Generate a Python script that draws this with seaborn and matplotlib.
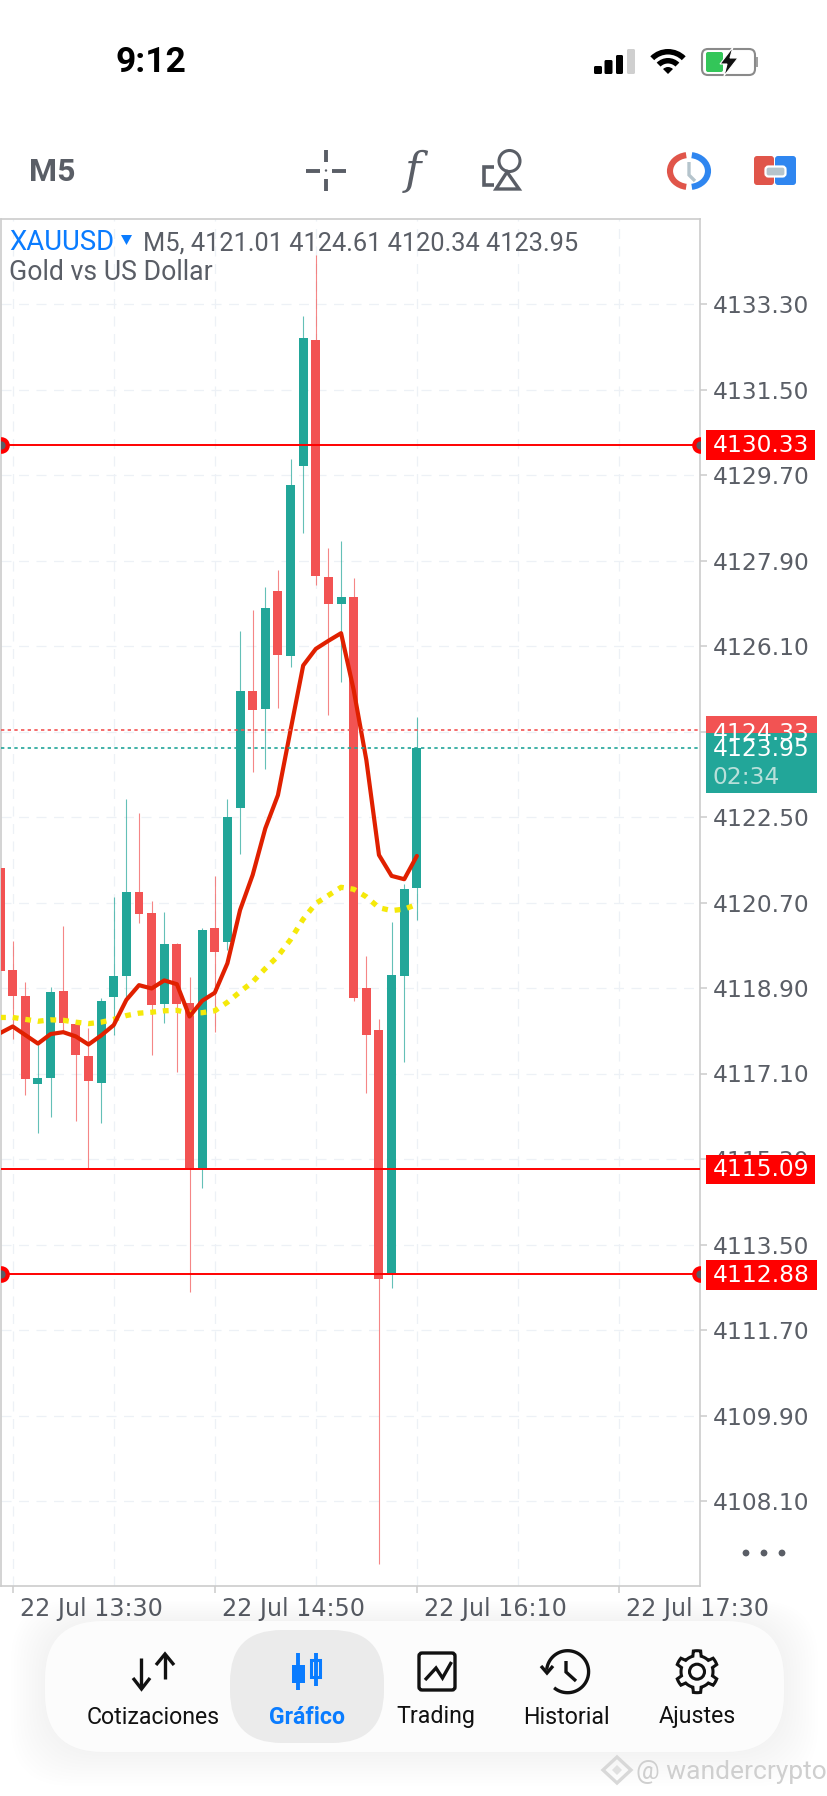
import numpy as np
import pandas as pd
import seaborn as sns
import matplotlib.pyplot as plt
from matplotlib.patches import FancyBboxPatch, Rectangle, Circle, Polygon, Wedge, Arc, Ellipse
from matplotlib.transforms import ScaledTranslation

# candles, one per 5 minutes, first one is cut by the left edge
opens = [4121.43, 4119.28, 4118.74, 4116.88, 4117.01, 4118.83, 4118.14, 4117.47, 4116.90, 4118.72, 4119.15,
         4120.93, 4120.47, 4118.56, 4119.82, 4118.58, 4115.11, 4120.16, 4119.87, 4122.70, 4125.16, 4124.77,
         4127.26, 4125.89, 4129.88, 4132.54, 4127.55, 4126.98, 4127.14, 4118.91, 4118.02, 4112.91, 4119.16, 4121.01]
closes = [4119.26, 4118.74, 4116.98, 4117.00, 4118.82, 4118.17, 4117.48, 4116.94, 4118.63, 4119.15, 4120.93,
          4120.46, 4118.55, 4119.83, 4118.56, 4115.11, 4120.13, 4119.65, 4122.49, 4125.16, 4124.75, 4126.91,
          4125.91, 4129.48, 4132.58, 4127.58, 4126.98, 4127.14, 4118.70, 4117.91, 4112.77, 4119.17, 4120.98, 4123.95]
highs = [4121.50, 4119.88, 4119.03, 4117.77, 4118.93, 4120.21, 4118.19, 4118.06, 4118.68, 4120.82, 4122.88,
         4122.58, 4120.73, 4120.51, 4119.85, 4119.14, 4120.17, 4121.26, 4122.88, 4126.42, 4126.86, 4127.34,
         4127.69, 4130.04, 4133.05, 4134.33, 4128.16, 4128.31, 4127.54, 4119.58, 4118.25, 4120.28, 4121.10, 4124.61]
lows = [4119.10, 4117.82, 4116.65, 4115.84, 4116.19, 4117.98, 4116.10, 4115.09, 4116.05, 4117.91, 4118.65,
        4120.26, 4117.49, 4118.16, 4117.14, 4112.51, 4114.68, 4117.98, 4119.70, 4121.72, 4123.45, 4123.51,
        4124.79, 4125.65, 4128.47, 4127.38, 4124.65, 4125.35, 4118.63, 4116.70, 4106.77, 4112.59, 4117.35, 4120.34]

ma_fast = [4117.95, 4118.09, 4117.91, 4117.73, 4117.93, 4117.97, 4117.88, 4117.71, 4117.90, 4118.12, 4118.65,
           4118.96, 4118.89, 4119.06, 4118.98, 4118.30, 4118.63, 4118.80, 4119.42, 4120.54, 4121.28, 4122.26,
           4122.96, 4124.33, 4125.69, 4126.04, 4126.21, 4126.37, 4125.17, 4123.70, 4121.70, 4121.26, 4121.19, 4121.68]
ma_slow = [4118.28, 4118.28, 4118.24, 4118.20, 4118.23, 4118.22, 4118.18, 4118.15, 4118.18, 4118.24, 4118.32,
           4118.37, 4118.39, 4118.42, 4118.43, 4118.37, 4118.38, 4118.42, 4118.60, 4118.82, 4119.03, 4119.31,
           4119.57, 4119.92, 4120.35, 4120.68, 4120.85, 4121.02, 4120.98, 4120.82, 4120.59, 4120.53, 4120.56, 4120.66]

price_ticks = [4133.30, 4131.50, 4129.70, 4127.90, 4126.10, 4124.30, 4122.50, 4120.70, 4118.90, 4117.10,
               4115.30, 4113.50, 4111.70, 4109.90, 4108.10]
time_ticks = [0, 16, 32, 48]
time_labels = ['22 Jul 13:30', '22 Jul 14:50', '22 Jul 16:10', '22 Jul 17:30']
level_lines = [4130.33, 4115.09, 4112.88]
handle_levels = [4130.33, 4112.88]
bid_price = 4123.95
ask_price = 4124.33

GREEN = '#22a699'
RED = '#f25353'
GREY = '#5a5e66'
BLUE = '#0a7cff'

sns.set_style('white')
plt.rcParams['font.family'] = ['Roboto', 'DejaVu Sans']

W, H = 828, 1796
fig = plt.figure(figsize=(W / 100, H / 100), dpi=100, facecolor='white')

# chart box in pixels
left, right, top, bottom = 1, 700, 219, 1586
ax = fig.add_axes([left / W, 1 - bottom / H, (right - left) / W, (bottom - top) / H])

df = pd.DataFrame({'bar': np.arange(-1, len(opens) - 1), 'open': opens, 'close': closes, 'high': highs,
                   'low': lows, 'ma_fast': ma_fast, 'ma_slow': ma_slow})
df['color'] = np.where(df['close'] >= df['open'], GREEN, RED)

ax.vlines(df['bar'], df['low'], df['high'], colors=df['color'], linewidth=0.8, alpha=0.7, zorder=2)
ax.bar(df['bar'], df['close'] - df['open'], bottom=df['open'], width=0.71, color=df['color'], linewidth=0, zorder=3)

sns.lineplot(data=df, x='bar', y='ma_slow', ax=ax, color='#f5e90a', linewidth=3.8, linestyle=(0, (1.1, 1.3)),
             errorbar=None, zorder=4)
sns.lineplot(data=df, x='bar', y='ma_fast', ax=ax, color='#e02000', linewidth=3.0, errorbar=None, zorder=5)

for level in level_lines:
    ax.axhline(level, color='#ff0000', linewidth=1.4, zorder=6)
ax.axhline(ask_price, color=RED, linewidth=1.2, linestyle=(0, (2, 2)), zorder=6)
ax.axhline(bid_price, color=GREEN, linewidth=1.2, linestyle=(0, (2, 2)), zorder=6)

# px per bar 12.63, bar 0 sits at x=12.7; px per price unit 47.5, 4133.30 sits at y=304
ax.set_xlim((left - 12.7) / 12.63, (right - 12.7) / 12.63)
ax.set_ylim(4133.30 - (bottom - 304) / 47.5, 4133.30 + (304 - top) / 47.5)

for level in handle_levels:
    ax.scatter(ax.get_xlim(), [level, level], s=80, facecolor=GREY, edgecolor='#ff0000', linewidth=3, zorder=7)

ax.yaxis.tick_right()
ax.set_yticks(price_ticks, [f'{t:.2f}' for t in price_ticks], family='DejaVu Sans', fontsize=16.8, color=GREY)
ax.set_xticks(time_ticks, time_labels)
ax.set_xticks([8, 24, 40], minor=True)
ax.tick_params(axis='y', length=5, width=1.1, color='#cccccc', pad=4, right=True)
ax.tick_params(axis='x', which='major', length=5, width=1.1, color='#cccccc', pad=3, bottom=True)
ax.tick_params(axis='x', which='minor', length=0)
for label in ax.get_xticklabels():
    label.set(family='DejaVu Sans', fontsize=17.2, color=GREY, ha='left')
    label.set_transform(label.get_transform() + ScaledTranslation(7 / 100, 0, fig.dpi_scale_trans))
ax.set_xlabel('')
ax.set_ylabel('')
ax.grid(True, which='both', color='#edf1f6', linewidth=0.9, linestyle=(0, (8, 6)), zorder=0)
ax.set_axisbelow(True)
for side in ax.spines.values():
    side.set_color('#cccccc')
    side.set_linewidth(1.2)

# everything around the chart, drawn in pixels
ui = fig.add_axes([0, 0, 1, 1], zorder=10)
ui.set_xlim(0, W)
ui.set_ylim(H, 0)
ui.axis('off')
ui.patch.set_alpha(0)


def box(x0, y0, x1, y1, color, rad=0.0, **kw):
    if rad:
        p = FancyBboxPatch((x0 + rad, y0 + rad), x1 - x0 - 2 * rad, y1 - y0 - 2 * rad,
                           boxstyle=f'round,pad={rad},rounding_size={rad}', fc=color, ec='none', **kw)
    else:
        p = Rectangle((x0, y0), x1 - x0, y1 - y0, fc=color, ec='none', **kw)
    ui.add_patch(p)
    return p


def line(xs, ys, color='#111111', lw=2.0, cap='butt'):
    ui.plot(xs, ys, color=color, linewidth=lw, solid_capstyle=cap, solid_joinstyle='miter')


# price badges
badge = dict(color='white', fontsize=16.8, family='DejaVu Sans', va='center', ha='left')
box(706, 430, 815, 460, '#ff0000')
ui.text(713, 446, '4130.33', **badge)
box(706, 1155, 815, 1184, '#ff0000')
ui.text(713, 1170, '4115.09', **badge)
box(706, 1260, 817, 1290, '#ff0000')
ui.text(713, 1276, '4112.88', **badge)
box(706, 716, 817, 735, RED)
ui.text(713, 733.5, '4124.33', **badge)
box(706, 733, 817, 793, GREEN)
ui.text(713, 750, '4123.95', **badge)
ui.text(713, 778, '02:34', color='#b8e0da', fontsize=16.8, family='DejaVu Sans', va='center', ha='left')
for dot_x in [746, 764, 782]:
    ui.add_patch(Circle((dot_x, 1553), 3.4, fc=GREY, ec='none'))

# header of the chart
ui.text(9, 243, 'XAUUSD', color=BLUE, fontsize=19.8, va='center', ha='left')
ui.add_patch(Polygon([[121, 235], [132, 235], [126.5, 245]], fc=BLUE, ec='none'))
ui.text(143, 243, 'M5, 4121.01 4124.61 4120.34 4123.95', color=GREY, fontsize=18.3, va='center', ha='left')
ui.text(9, 273, 'Gold vs US Dollar', color=GREY, fontsize=19.2, va='center', ha='left')

# status bar
ui.text(116, 63, '9:12', color='black', fontsize=25.5, fontweight='bold', va='center', ha='left')
for x0, x1, y0, c in [(594, 602, 66, 'black'), (604.5, 612.5, 60, 'black'), (616, 623, 55, 'black'), (627, 635, 49, '#cfcfcf')]:
    box(x0, y0, x1, 74, c, rad=1.5)
for r, w in [(25, 5.5), (16, 5.5), (7, 7)]:
    ui.add_patch(Wedge((668, 74), r, 225, 315, width=w, fc='black', ec='none'))
ui.add_patch(FancyBboxPatch((705, 52), 47, 20, boxstyle='round,pad=3,rounding_size=6', fc='white', ec='#8a8a8a', lw=1.5))
box(706, 52, 723, 72, '#33c659', rad=2)
ui.add_patch(Polygon([[733, 47], [720, 64], [727, 64], [724, 76], [738, 58], [730, 58]], fc='#111111', ec='white', lw=0.8))
box(756, 57, 758, 67, '#a0a0a0')

# toolbar
ui.text(29, 172, 'M5', color=GREY, fontsize=23, fontweight='bold', va='center', ha='left')
line([306, 320], [170.5, 170.5], GREY, 2.8)
line([332, 346], [170.5, 170.5], GREY, 2.8)
line([326, 326], [150, 162], GREY, 2.8)
line([326, 326], [179, 191], GREY, 2.8)
ui.add_patch(Circle((326, 170.5), 1.2, fc=GREY, ec='none'))
ui.text(413, 171, 'f', color=GREY, fontsize=32, family='DejaVu Serif', style='italic', va='center', ha='center')
ui.add_patch(Ellipse((509.5, 161), 21, 21, fc='none', ec=GREY, lw=2.2))
ui.add_patch(Polygon([[507, 172], [496, 189], [519, 189]], fc='none', ec=GREY, lw=2.4))
line([494, 484, 484, 494], [167, 167, 185, 185], GREY, 2.6)
ui.add_patch(Arc((689, 171), 38, 32, theta1=100, theta2=260, ec='#e0554a', lw=4.4))
ui.add_patch(Arc((689, 171), 38, 32, theta1=-80, theta2=80, ec='#2f86f0', lw=4.4))
line([689, 689, 695], [162, 175, 181], '#b5c4cc', 2.4)
box(754, 156, 774, 185, '#e0554a', rad=3)
box(775, 156, 796, 185, '#2f86f0', rad=3)
ui.add_patch(FancyBboxPatch((768, 169), 15, 5, boxstyle='round,pad=2.5,rounding_size=3', fc='#b5c4cc', ec='white', lw=1.6))

# bottom navigation with soft shadow
for grow in range(34, 0, -3):
    box(45 - grow, 1621 - grow * 0.6, 784 + grow, 1752 + grow, '#000000', rad=60, alpha=0.0022)
box(45, 1621, 784, 1752, '#fcfcfc', rad=58)
box(230, 1630, 384, 1743, '#ebebeb', rad=52)

# quotes icon
line([141.5, 141.5], [1658, 1688], lw=2.4)
line([133, 141.5, 150], [1678, 1689, 1678], lw=2.4)
line([165, 165], [1655, 1679], lw=2.4)
line([156, 165, 174], [1665, 1654, 1665], lw=2.4)
# chart icon
box(292, 1665, 305, 1683, BLUE)
line([298.5, 298.5], [1653, 1690], BLUE, 2.8)
line([316, 316], [1653, 1686], BLUE, 2.8)
ui.add_patch(Rectangle((311.5, 1660), 9, 17, fc='#ebebeb', ec=BLUE, lw=2.2))
# trade icon
ui.add_patch(FancyBboxPatch((419, 1653), 36, 37, boxstyle='round,pad=0,rounding_size=3', fc='none', ec='#111111', lw=2.4))
line([425, 436, 442.5, 451.5], [1680, 1668, 1678, 1662], lw=2.4)
# history icon
arc_t = np.deg2rad(np.arange(185, 491, 5))
line(567.6 + 21 * np.cos(arc_t), 1671.7 + 21 * np.sin(arc_t), lw=2.4)
line([541, 547, 553], [1666, 1673, 1666], lw=2.4)
line([566, 566, 576], [1661, 1672, 1681], lw=2.4)
# settings icon
angles = np.deg2rad(np.arange(0, 360, 5) + 30)
radii = np.where(np.cos(6 * (angles - np.deg2rad(30))) > 0.3, 21, 16)
ui.add_patch(Polygon(np.c_[697 + radii * np.cos(angles), 1671.7 + radii * np.sin(angles)], fc='none', ec='#111111', lw=2.2))
ui.add_patch(Circle((697, 1671.7), 7.5, fc='none', ec='#111111', lw=2.2))

nav = dict(fontsize=16.7, va='center', ha='center')
ui.text(153.6, 1717, 'Cotizaciones', color='#111111', **nav)
ui.text(307, 1717, 'Gráfico', color=BLUE, fontweight='bold', **nav)
ui.text(436, 1717, 'Trading', color='#111111', **nav)
ui.text(566, 1717, 'Historial', color='#111111', **nav)
ui.text(697.5, 1717, 'Ajustes', color='#111111', **nav)

# watermark
ui.add_patch(Polygon([[617, 1757], [631, 1770], [617, 1783], [603, 1770]], fc='none', ec='#d8d8d8', lw=2.4))
ui.add_patch(Polygon([[617, 1765], [622, 1770], [617, 1775], [612, 1770]], fc='#e0e0e0', ec='none'))
ui.text(636, 1772, '@ wandercrypto', color='#cfcfcf', fontsize=19, va='center', ha='left')

fig.savefig('out.png', dpi=100)
